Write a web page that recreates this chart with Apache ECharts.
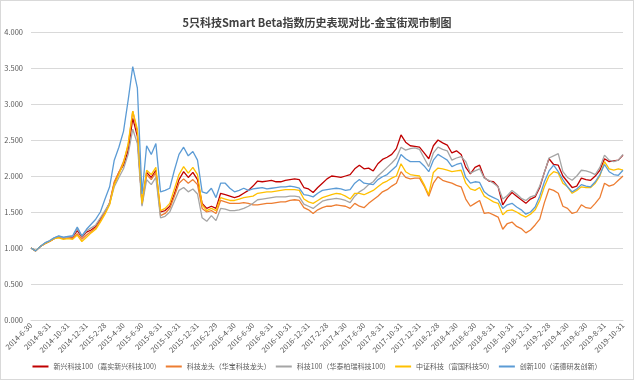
<!DOCTYPE html>
<html>
<head>
<meta charset="utf-8">
<title>5只科技Smart Beta指数历史表现对比</title>
<script src="https://cdn.jsdelivr.net/npm/echarts@6/dist/echarts.min.js"></script>
<style>
  html, body { margin: 0; padding: 0; background: #fff; }
  #chart { width: 632px; height: 378px; border: 1px solid #d9d9d9; }
</style>
</head>
<body>
<div id="chart"></div>
<script>
  // 半月采样的日期（每隔4个显示一个标签）
  var dates = [
    '2014-6-30', '2014-7-15', '2014-7-31', '2014-8-15', '2014-8-31', '2014-9-15', '2014-9-30',
    '2014-10-15', '2014-10-31', '2014-11-15', '2014-11-30', '2014-12-15', '2014-12-31',
    '2015-1-15', '2015-1-31', '2015-2-15', '2015-2-28', '2015-3-15', '2015-3-31', '2015-4-15', '2015-4-30',
    '2015-5-15', '2015-5-31', '2015-6-15', '2015-6-30', '2015-7-15', '2015-7-31', '2015-8-15', '2015-8-31',
    '2015-9-15', '2015-9-30', '2015-10-15', '2015-10-31', '2015-11-15', '2015-11-30', '2015-12-15', '2015-12-31',
    '2016-1-15', '2016-1-31', '2016-2-15', '2016-2-29', '2016-3-15', '2016-3-31', '2016-4-15', '2016-4-30',
    '2016-5-15', '2016-5-31', '2016-6-15', '2016-6-30', '2016-7-15', '2016-7-31', '2016-8-15', '2016-8-31',
    '2016-9-15', '2016-9-30', '2016-10-15', '2016-10-31', '2016-11-15', '2016-11-30', '2016-12-15', '2016-12-31',
    '2017-1-15', '2017-1-31', '2017-2-15', '2017-2-28', '2017-3-15', '2017-3-31', '2017-4-15', '2017-4-30',
    '2017-5-15', '2017-5-31', '2017-6-15', '2017-6-30', '2017-7-15', '2017-7-31', '2017-8-15', '2017-8-31',
    '2017-9-15', '2017-9-30', '2017-10-15', '2017-10-31', '2017-11-15', '2017-11-30', '2017-12-15', '2017-12-31',
    '2018-1-15', '2018-1-31', '2018-2-15', '2018-2-28', '2018-3-15', '2018-3-31', '2018-4-15', '2018-4-30',
    '2018-5-15', '2018-5-31', '2018-6-15', '2018-6-30', '2018-7-15', '2018-7-31', '2018-8-15', '2018-8-31',
    '2018-9-15', '2018-9-30', '2018-10-15', '2018-10-31', '2018-11-15', '2018-11-30', '2018-12-15', '2018-12-31',
    '2019-1-15', '2019-1-31', '2019-2-15', '2019-2-28', '2019-3-15', '2019-3-31', '2019-4-15', '2019-4-30',
    '2019-5-15', '2019-5-31', '2019-6-15', '2019-6-30', '2019-7-15', '2019-7-31', '2019-8-15', '2019-8-31',
    '2019-9-15', '2019-9-30', '2019-10-15', '2019-10-31'
  ];

  // 新兴科技100（嘉实新兴科技100）
  var xinxing = [
    1.00, 0.96, 1.02, 1.06, 1.09, 1.13, 1.16, 1.14, 1.15, 1.15, 1.24, 1.15, 1.22,
    1.25, 1.30, 1.40, 1.50, 1.62, 1.90, 2.05, 2.15, 2.35, 2.80, 2.55, 1.62,
    2.05, 1.98, 2.08, 1.50, 1.52, 1.58, 1.75, 1.95, 2.06, 1.98, 2.05, 1.95,
    1.62, 1.55, 1.58, 1.55, 1.76, 1.74, 1.72, 1.70, 1.72, 1.76, 1.80, 1.86,
    1.93, 1.92, 1.93, 1.94, 1.92, 1.92, 1.94, 1.95, 1.96, 1.95, 1.84, 1.82,
    1.77, 1.84, 1.90, 1.96, 2.00, 1.99, 1.98, 2.00, 2.02, 2.10, 2.15, 2.10,
    2.11, 2.07, 2.17, 2.23, 2.26, 2.30, 2.38, 2.57, 2.47, 2.42, 2.41, 2.40,
    2.32, 2.24, 2.42, 2.50, 2.46, 2.43, 2.32, 2.35, 2.30, 2.12, 2.03, 2.12,
    2.15, 1.98, 1.93, 1.92, 1.85, 1.60, 1.70, 1.77, 1.72, 1.67, 1.62, 1.68,
    1.71, 1.84, 2.05, 2.24, 2.16, 2.15, 2.00, 1.92, 1.84, 1.86, 1.97, 1.95,
    1.94, 2.00, 2.08, 2.24, 2.20, 2.21, 2.22, 2.29
  ];

  // 科技龙头（华宝科技龙头）
  var longtou = [
    1.00, 0.96, 1.02, 1.06, 1.09, 1.13, 1.15, 1.13, 1.14, 1.13, 1.20, 1.12, 1.18,
    1.23, 1.28, 1.38, 1.50, 1.63, 1.92, 2.05, 2.20, 2.42, 2.90, 2.60, 1.60,
    2.02, 1.95, 2.05, 1.45, 1.48, 1.55, 1.72, 1.90, 1.96, 1.90, 1.95, 1.88,
    1.55, 1.50, 1.52, 1.48, 1.66, 1.64, 1.62, 1.62, 1.62, 1.63, 1.62, 1.60,
    1.60, 1.61, 1.62, 1.62, 1.63, 1.64, 1.64, 1.66, 1.67, 1.66, 1.56, 1.53,
    1.48, 1.53, 1.56, 1.58, 1.58, 1.60, 1.59, 1.58, 1.55, 1.62, 1.58, 1.56,
    1.62, 1.67, 1.72, 1.78, 1.81, 1.86, 1.90, 2.06, 1.98, 1.96, 1.97, 1.97,
    1.86, 1.72, 1.90, 1.99, 1.94, 1.92, 1.90, 1.87, 1.85, 1.68, 1.58, 1.62,
    1.66, 1.48, 1.49, 1.46, 1.43, 1.26, 1.34, 1.36, 1.30, 1.27, 1.21, 1.25,
    1.32, 1.40, 1.63, 1.82, 1.80, 1.76, 1.58, 1.55, 1.48, 1.50, 1.60, 1.56,
    1.55, 1.62, 1.70, 1.90, 1.86, 1.88, 1.94, 2.00
  ];

  // 科技100（华泰柏瑞科技100）
  var keji100 = [
    1.00, 0.96, 1.02, 1.07, 1.10, 1.14, 1.16, 1.14, 1.15, 1.16, 1.27, 1.16, 1.24,
    1.28, 1.32, 1.42, 1.52, 1.62, 1.85, 1.98, 2.10, 2.30, 2.65, 2.45, 1.58,
    1.95, 1.88, 1.98, 1.42, 1.44, 1.50, 1.65, 1.80, 1.84, 1.78, 1.82, 1.75,
    1.42, 1.37, 1.45, 1.38, 1.55, 1.54, 1.52, 1.52, 1.53, 1.55, 1.58, 1.62,
    1.67, 1.68, 1.69, 1.70, 1.71, 1.71, 1.71, 1.72, 1.72, 1.71, 1.61, 1.58,
    1.55, 1.60, 1.65, 1.67, 1.68, 1.69, 1.68, 1.66, 1.63, 1.72, 1.78, 1.82,
    1.88, 1.92, 2.00, 2.06, 2.12, 2.18, 2.25, 2.40, 2.36, 2.38, 2.39, 2.37,
    2.25, 2.13, 2.32, 2.40, 2.37, 2.35, 2.22, 2.25, 2.27, 2.20, 2.04, 2.07,
    2.10, 1.97, 1.94, 1.90, 1.85, 1.68, 1.73, 1.80, 1.75, 1.69, 1.66, 1.71,
    1.73, 1.86, 2.05, 2.25, 2.28, 2.31, 2.06, 1.98, 1.94, 2.00, 2.08, 2.07,
    2.05, 2.02, 2.12, 2.29, 2.22, 2.20, 2.22, 2.30
  ];

  // 中证科技（富国科技50）
  var zhongzheng = [
    1.00, 0.96, 1.02, 1.06, 1.09, 1.13, 1.14, 1.12, 1.13, 1.12, 1.18, 1.09, 1.15,
    1.21, 1.26, 1.36, 1.47, 1.60, 1.88, 2.02, 2.18, 2.45, 2.90, 2.65, 1.62,
    2.08, 2.02, 2.12, 1.52, 1.55, 1.62, 1.82, 2.02, 2.13, 2.04, 2.12, 2.02,
    1.60, 1.52, 1.55, 1.52, 1.70, 1.68, 1.66, 1.66, 1.68, 1.70, 1.71, 1.72,
    1.76, 1.77, 1.78, 1.78, 1.79, 1.80, 1.81, 1.81, 1.81, 1.80, 1.68, 1.64,
    1.62, 1.66, 1.70, 1.72, 1.74, 1.76, 1.75, 1.72, 1.68, 1.76, 1.76, 1.74,
    1.77, 1.80, 1.85, 1.90, 1.93, 1.97, 2.00, 2.17, 2.06, 2.02, 2.01, 2.00,
    1.88, 1.74, 2.05, 2.11, 2.10, 2.08, 2.06, 2.07, 2.08, 1.90, 1.82, 1.80,
    1.84, 1.72, 1.68, 1.64, 1.62, 1.46, 1.52, 1.53, 1.50, 1.46, 1.43, 1.47,
    1.53, 1.66, 1.85, 2.00, 2.06, 2.04, 1.90, 1.85, 1.76, 1.80, 1.85, 1.84,
    1.84, 1.90, 2.00, 2.20, 2.10, 2.08, 2.10, 2.08
  ];

  // 创新100（诺德研发创新）
  var chuangxin = [
    1.00, 0.96, 1.02, 1.07, 1.10, 1.14, 1.17, 1.15, 1.16, 1.17, 1.29, 1.17, 1.26,
    1.33, 1.40, 1.50, 1.68, 1.85, 2.22, 2.40, 2.62, 3.05, 3.52, 3.22, 1.75,
    2.42, 2.30, 2.45, 1.78, 1.80, 1.83, 2.08, 2.30, 2.40, 2.28, 2.34, 2.22,
    1.78, 1.76, 1.83, 1.70, 1.90, 1.90, 1.83, 1.78, 1.80, 1.83, 1.80, 1.82,
    1.83, 1.84, 1.82, 1.83, 1.84, 1.85, 1.85, 1.86, 1.85, 1.83, 1.74, 1.73,
    1.71, 1.76, 1.80, 1.81, 1.82, 1.83, 1.82, 1.80, 1.81, 1.90, 1.95, 1.90,
    1.89, 1.88, 1.95, 1.99, 2.02, 2.08, 2.14, 2.30, 2.24, 2.20, 2.20, 2.20,
    2.14, 2.06, 2.22, 2.30, 2.26, 2.22, 2.13, 2.16, 2.18, 1.98, 1.90, 1.92,
    1.91, 1.78, 1.73, 1.70, 1.67, 1.55, 1.60, 1.62, 1.57, 1.53, 1.47, 1.50,
    1.57, 1.72, 1.92, 2.07, 2.15, 2.06, 1.95, 1.85, 1.78, 1.82, 1.88, 1.86,
    1.85, 1.92, 2.02, 2.16, 2.06, 2.02, 2.01, 2.08
  ];

  var names = [
    '新兴科技100（嘉实新兴科技100）',
    '科技龙头（华宝科技龙头）',
    '科技100（华泰柏瑞科技100）',
    '中证科技（富国科技50）',
    '创新100（诺德研发创新）'
  ];
  var colors = ['#C00000', '#ED7D31', '#A5A5A5', '#FFC000', '#5B9BD5'];
  var values = [xinxing, longtou, keji100, zhongzheng, chuangxin];

  var series = [];
  for (var i = 0; i < names.length; i++) {
    series.push({
      name: names[i],
      type: 'line',
      data: values[i],
      showSymbol: false,
      symbol: 'none',
      lineStyle: { width: 1.3, color: colors[i] },
      itemStyle: { color: colors[i] },
      emphasis: { disabled: true }
    });
  }

  var chart = echarts.init(document.getElementById('chart'));
  var option = {
    animation: false,
    backgroundColor: '#ffffff',
    textStyle: { fontFamily: '"Noto Sans CJK SC", "Noto Sans", sans-serif' },
    title: {
      text: '5只科技Smart Beta指数历史表现对比-金宝街观市制图',
      left: 'center',
      top: 11,
      textStyle: { fontSize: 11, fontWeight: 'bold', color: '#404040' }
    },
    legend: {
      data: names,
      bottom: 4,
      icon: 'rect',
      itemWidth: 16,
      itemHeight: 2,
      itemGap: 5,
      textStyle: { fontSize: 7, color: '#595959' }
    },
    grid: { left: 30, right: 10, top: 31, bottom: 59 },
    xAxis: {
      type: 'category',
      data: dates,
      boundaryGap: false,
      axisLine: { lineStyle: { color: '#d9d9d9' } },
      axisTick: { show: false },
      axisLabel: { interval: 3, rotate: 45, fontSize: 7.5, color: '#595959', margin: 4 }
    },
    yAxis: {
      type: 'value',
      min: 0,
      max: 4,
      interval: 0.5,
      axisLine: { show: false },
      axisTick: { show: false },
      splitLine: { lineStyle: { color: '#d9d9d9' } },
      axisLabel: {
        fontSize: 7.5,
        color: '#595959',
        margin: 8,
        formatter: function (v) { return v.toFixed(3); }
      }
    },
    series: series
  };
  chart.setOption(option);
</script>
</body>
</html>
